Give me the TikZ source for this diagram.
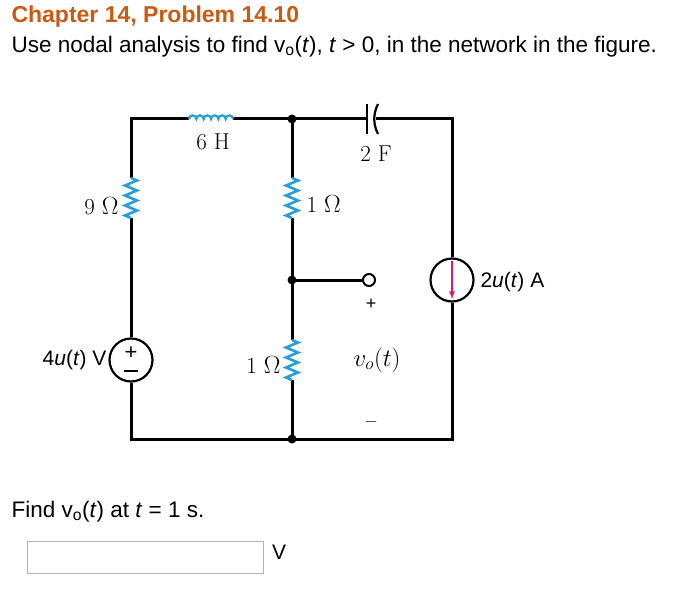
\documentclass[tikz,border=0pt]{standalone}
\usepackage{fontspec}
\setmainfont{Liberation Sans}
\newfontfamily\lmr{Latin Modern Roman}
\usetikzlibrary{decorations.pathmorphing}
\definecolor{res}{RGB}{40,160,215}
\definecolor{ttl}{RGB}{200,90,20}
\definecolor{arr}{RGB}{220,20,120}
\tikzset{wire/.style={line width=3pt,black},
 resist/.style={res,line width=2.6pt,decorate,decoration={zigzag,segment length=10pt,amplitude=6pt}},
 lbl/.style={font=\fontsize{23}{23}\selectfont\lmr},
 dot/.style={circle,fill=black,inner sep=0pt,minimum size=9pt}}
\begin{document}
\begin{tikzpicture}[x={(1pt,0)},y={(0,-1pt)}]
\useasboundingbox (0,0) rectangle (700,596);
\node[anchor=west,font=\fontsize{23}{23}\selectfont\bfseries,text=ttl] (title) at (8,17) {Chapter 14, Problem 14.10};
\node[anchor=west,font=\fontsize{22.5}{23}\selectfont] (q) at (8,47) {Use nodal analysis to find v\textsubscript{o}(\textit{t}), \textit{t} > 0, in the network in the figure.};
% coordinates
\coordinate (tl) at (131,119); \coordinate (tm) at (292,119); \coordinate (tr) at (452,119);
\coordinate (bl) at (131,439); \coordinate (bm) at (292,439); \coordinate (br) at (452,439);
\coordinate (mm) at (292,280);
\coordinate (la) at (189,119); \coordinate (lb) at (233,119);
\coordinate (ca) at (367,119); \coordinate (cb) at (376,119);
\coordinate (r9a) at (131,178); \coordinate (r9b) at (131,218);
\coordinate (r1a) at (292,178); \coordinate (r1b) at (292,218);
\coordinate (r2a) at (292,340); \coordinate (r2b) at (292,380);
\node[circle,draw,line width=2.2pt,minimum size=43pt,inner sep=0pt] (vs) at (131,360) {};
\node[circle,draw,line width=2.2pt,minimum size=43pt,inner sep=0pt] (is) at (452,280) {};
\node[circle,draw,line width=2pt,fill=white,minimum size=12pt,inner sep=0pt] (term) at (369,280) {};
% wires
\draw[wire] (r9a) -- (tl) -- (la);
\draw[wire] (lb) -- (tm) -- (ca);
\draw[wire] (cb) -- (tr) -- (is.north);
\draw[wire] (is.south) -- (br) -- (bl) -- (vs.south);
\draw[wire] (vs.north) -- (r9b);
\draw[wire] (tm) -- (r1a); \draw[wire] (r1b) -- (r2a); \draw[wire] (r2b) -- (bm);
\draw[wire] (mm) -- (term.west);
% components
\draw[resist] (r9a) -- (r9b);
\draw[resist] (r1a) -- (r1b);
\draw[resist] (r2a) -- (r2b);
\draw[res,line width=2.2pt] (la) arc (180:360:3.67) arc (180:360:3.67) arc (180:360:3.67) arc (180:360:3.67) arc (180:360:3.67) arc (180:360:3.67);
\draw[line width=2.2pt] (367,104) -- (367,134);
\draw[line width=2.2pt] (378,104) .. controls (373,114) and (373,124) .. (378,134);
\node[dot] (d1) at (tm) {}; \node[dot] (d2) at (mm) {}; \node[dot] (d3) at (bm) {};
\draw[arr,line width=1.6pt,-{latex}] (452,261) -- (452,299);
\node[font=\fontsize{22}{22}\selectfont] (pl) at (131,353) {+};
\draw[line width=1.6pt] (124,371) -- (138,371);
% labels
\node[lbl] (l6h) at (213,142) {6 H};
\node[lbl] (l2f) at (376,154) {2 F};
\node[lbl,anchor=east] (l9) at (122,206) {9 $\Omega$};
\node[lbl,anchor=west] (l1a) at (303,204) {1 $\Omega$};
\node[lbl,anchor=east] (l1b) at (284,365) {1 $\Omega$};
\node[font=\fontsize{21}{21}\selectfont,anchor=west] (lis) at (477,282) {2\textit{u}(\textit{t}) A};
\node[font=\fontsize{21}{21}\selectfont,anchor=east] (lvs) at (110,360) {4\textit{u}(\textit{t}) V};
\node[font=\fontsize{18}{18}\selectfont] (vp) at (371,304) {+};
\node[font=\fontsize{23}{23}\selectfont] (vo) at (377,360) {$v_o(t)$};
\node[font=\fontsize{18}{18}\selectfont] (vm) at (371,422) {$-$};
\node[anchor=west,font=\fontsize{22.5}{23}\selectfont] (find) at (8,512) {Find v\textsubscript{o}(\textit{t}) at \textit{t} = 1 s.};
\draw[gray!60,line width=1pt] (27,541) rectangle (263,573);
\node[font=\fontsize{21}{21}\selectfont] (unit) at (279,552) {V};
\end{tikzpicture}
\end{document}
